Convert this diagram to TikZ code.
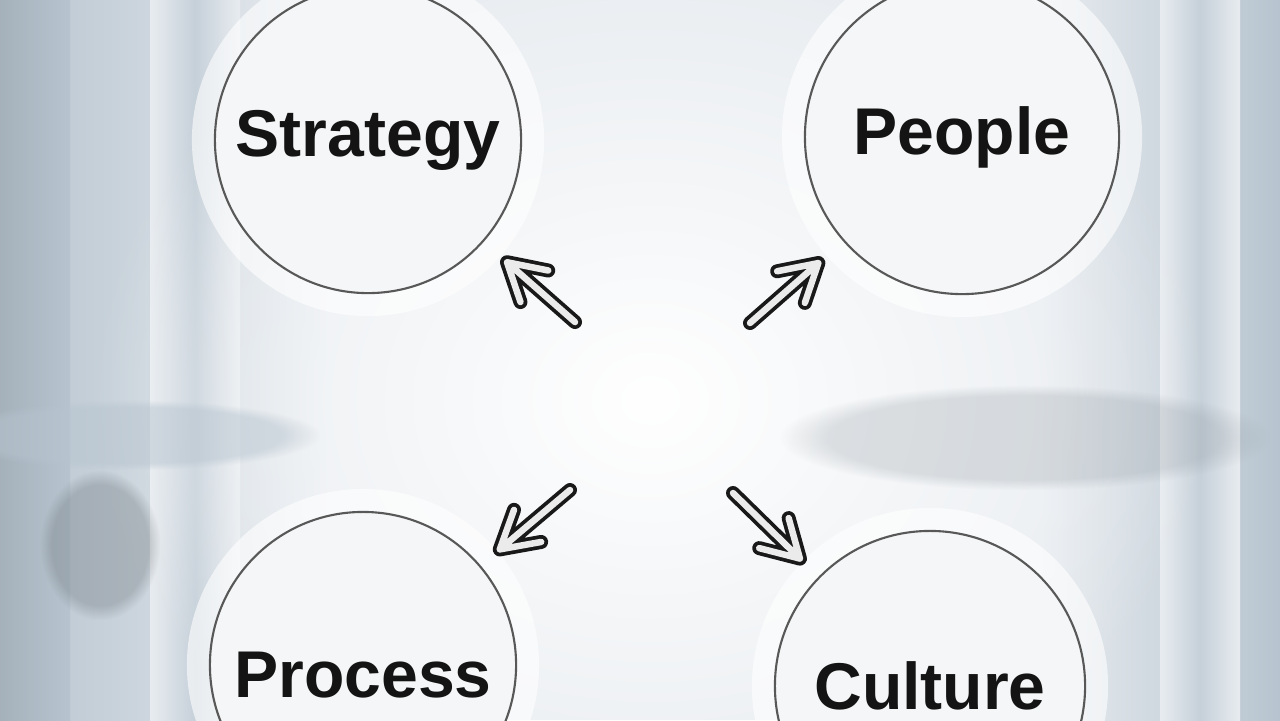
\documentclass[tikz,border=0pt]{standalone}
\usepackage{fontspec}
\setmainfont{Liberation Sans}
\usetikzlibrary{calc,fadings}

\definecolor{bgblue}{HTML}{B7C4CF}
\definecolor{bgpale}{HTML}{E8ECF0}
\definecolor{ringgray}{HTML}{585858}
\definecolor{discfill}{HTML}{F5F6F7}
\definecolor{corefill}{HTML}{EBEBEB}
\tikzfading[name=glow fade, inner color=transparent!0, outer color=transparent!100]

\begin{document}
\begin{tikzpicture}[x=0.01cm, y=-0.01cm,
    halo/.style={circle, fill=white, fill opacity=0.6, minimum size=#1, inner sep=0pt},
    disc/.style={circle, draw=ringgray, line width=0.6pt, fill=discfill, minimum size=#1,
        inner sep=0pt, text=black!92, font=\fontsize{18.8pt}{20pt}\selectfont\bfseries},
    arrow outline/.style={line width=0.14cm, black!90, line cap=round, line join=round},
    arrow core/.style={line width=0.065cm, corefill, line cap=round, line join=round},
    blob/.style={fill=#1, path fading=circle with fuzzy edge 20 percent},
    softbar/.style={left color=bgpale, right color=bgpale, middle color=#1}]
    \useasboundingbox (0,0) rectangle (1280,720);
    \clip (0,0) rectangle (1280,720);

    % blurred office backdrop
    \fill[bgpale] (0,0) rectangle (1280,720);
    \shade[left color=bgblue, right color=bgpale] (0,0) rectangle (330,720);
    \shade[left color=bgblue!90!black, right color=bgblue] (0,0) rectangle (70,720);
    \shade[softbar=bgblue!70!bgpale] (150,0) rectangle (240,720);
    \shade[left color=bgpale, right color=bgblue] (1040,0) rectangle (1280,720);
    \shade[softbar=bgblue!70!bgpale] (1160,0) rectangle (1240,720);
    \fill[white, path fading=glow fade] (650,400) ellipse (560 and 460);
    \fill[blob=bgblue, opacity=0.5] (-60,400) rectangle (320,470);
    \fill[blob=bgblue!60!black, opacity=0.35] (40,470) rectangle (160,620);
    \fill[blob=bgblue!75!black, opacity=0.25] (780,385) rectangle (1270,490);

    % halos
    \node[halo=3.52cm] (strat halo) at (368,140) {};
    \node[halo=3.60cm] (peop halo) at (962,137) {};
    \node[halo=3.52cm] (proc halo) at (363,665) {};
    \node[halo=3.56cm] (cult halo) at (930,686) {};

    % discs
    \node[disc=3.06cm] (strat) at (368,140) {Strategy};
    \node[disc=3.14cm] (peop) at (962,137) {People};
    \node[disc=3.06cm, text height=18.6pt] (proc) at (363,665) {Process};
    \node[disc=3.10cm] (cult) at (930,686) {Culture};

    % sketched arrows out of the middle
    \foreach \nd/\tx/\ty/\gap in {strat/575/322/1.85cm, peop/750/323/1.91cm,
                                  proc/570/490/1.79cm, cult/733/493/1.82cm}{
      \coordinate (\nd tail) at (\tx,\ty);
      \coordinate (\nd tip) at ($(\nd.center)!\gap!(\nd tail)$);
      \coordinate (\nd wa) at ($(\nd tip)!0.42cm!30:(\nd tail)$);
      \coordinate (\nd wb) at ($(\nd tip)!0.42cm!-30:(\nd tail)$);
      \draw[arrow outline] (\nd wa) -- (\nd tip) -- (\nd wb) (\nd tip) -- (\nd tail);
      \draw[arrow core] (\nd wa) -- (\nd tip) -- (\nd wb) (\nd tip) -- (\nd tail);
    }
\end{tikzpicture}
\end{document}
